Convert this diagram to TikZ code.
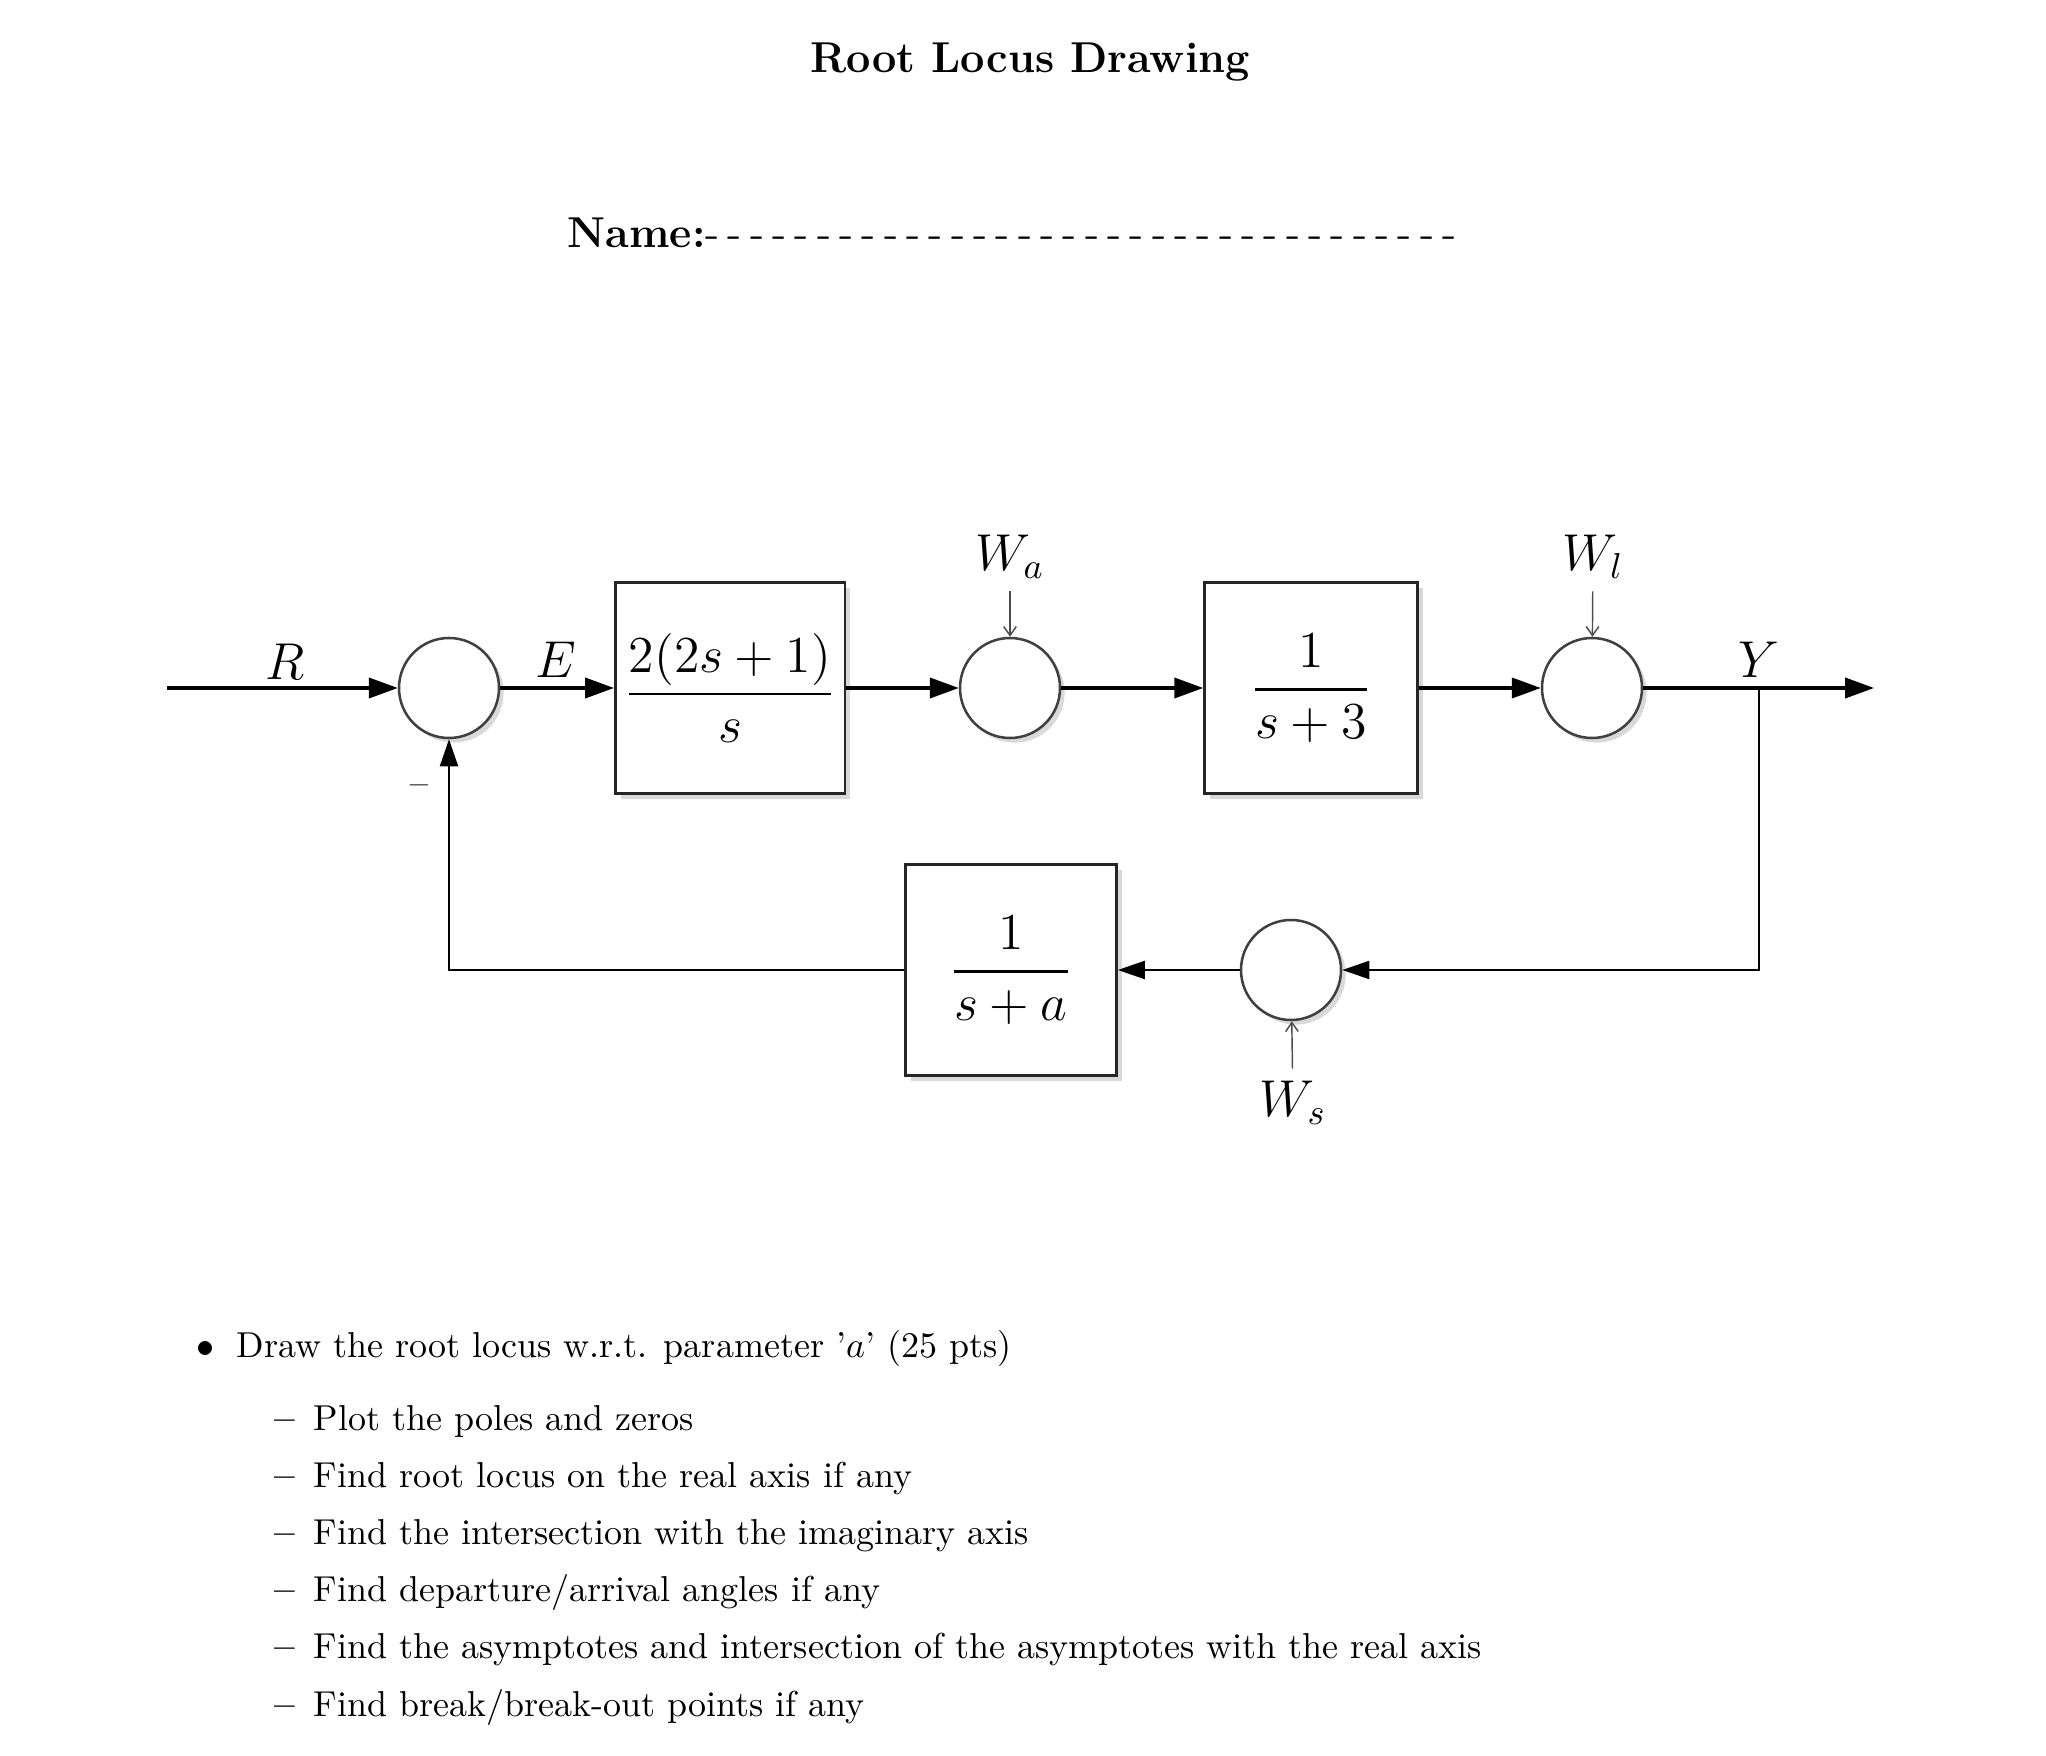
\documentclass[tikz,border=0pt]{standalone}
\usepackage{amsmath}
\usetikzlibrary{arrows.meta,shadows}

\newcommand\namedashes{\foreach \k in {1,...,34}{\makebox[6.2pt][l]{-}}}

\begin{document}
\begin{tikzpicture}
[x=0.0976mm,y=-0.0976mm,
  sumdecorate/.style={shape=circle,minimum size=9.76mm,inner sep=0pt,draw=black!75,
    line width=0.7pt,fill=white,
    drop shadow={shadow xshift=0.45mm,shadow yshift=-0.45mm,opacity=0.3}},
  blockdecorate/.style={shape=rectangle,minimum height=20.6mm,inner sep=0pt,draw=black!85,
    line width=0.7pt,fill=white,font=\Large,
    drop shadow={shadow xshift=0.55mm,shadow yshift=-0.55mm,opacity=0.3}},
  linedecorate/.style={line width=0.85pt,-{Triangle[length=8pt,width=5.6pt]}},
  backdecorate/.style={line width=0.6pt,-{Triangle[length=7.5pt,width=5pt]}},
  noisedecorate/.style={line width=0.4pt,draw=black!70,-{Straight Barb[length=2.5pt,width=3.5pt]}},
  labeldecorate/.style={font=\Large}]
\useasboundingbox (0,0) rectangle (2046,1756);
%% heading
\node (title) at (1030,73) [anchor=base,inner sep=0pt,font=\large\bfseries] {Root Locus Drawing};
\node (name) at (567,248) [anchor=base west,inner sep=0pt,font=\large] {\textbf{Name:}\namedashes};
%% summing junctions
\foreach \nodename/\x/\y in {S1/449/688, S2/1010/688, S3/1592/688, S4/1291/970}
{
  \node (\nodename) at (\x,\y) [sumdecorate] {};
}
%% blocks
\node (G1) at (730,688) [blockdecorate,minimum width=22.4mm] {$\dfrac{2(2s+1)}{s}$};
\node (G2) at (1311,688) [blockdecorate,minimum width=20.8mm] {$\dfrac{1}{s+3}$};
\node (H) at (1011,970) [blockdecorate,minimum width=20.6mm] {$\dfrac{1}{s+a}$};
%% signals and disturbances
\coordinate (in) at (167,688);
\coordinate (out) at (1874,688);
\coordinate (branch) at (1759,688);
\node (R) at (285,662) [labeldecorate] {$R$};
\node (E) at (556,660) [labeldecorate] {$E$};
\node (Y) at (1759,660) [labeldecorate] {$Y$};
\node (Wa) at (1010,557) [labeldecorate] {$W_a$};
\node (Wl) at (1593,557) [labeldecorate] {$W_l$};
\node (Ws) at (1293,1103) [labeldecorate] {$W_s$};
\node (minus) at (419,785) [text=black!70,font=\footnotesize] {$-$};
%% connections
\path
\foreach \startnode/\endnode in {in/S1, S1/G1, G1/S2, S2/G2, G2/S3, S3/out} {
  (\startnode) edge[linedecorate] (\endnode)
};
\draw[backdecorate] (branch) |- (S4);
\draw[backdecorate] (S4) -- (H);
\draw[backdecorate] (H) -| (S1);
\path
\foreach \startnode/\endnode in {Wa/S2, Wl/S3, Ws/S4} {
  (\startnode) edge[noisedecorate] (\endnode)
};
%% tasks
\node (bullet) at (206,1357) [anchor=base,inner sep=0pt] {$\bullet$};
\node (task) at (236,1357) [anchor=base west,inner sep=0pt] {Draw the root locus w.r.t. parameter '$a$' (25 pts)};
\foreach \i/\txt in {0/Plot the poles and zeros, 1/Find root locus on the real axis if any,
  2/Find the intersection with the imaginary axis, 3/{Find departure/arrival angles if any},
  4/Find the asymptotes and intersection of the asymptotes with the real axis,
  5/{Find break/break-out points if any}}
{
  \node (dash\i) at (285,{1430+57.2*\i}) [anchor=base,inner sep=0pt] {\textbf{--}};
  \node (sub\i) at (313,{1430+57.2*\i}) [anchor=base west,inner sep=0pt] {\txt};
}
\end{tikzpicture}
\end{document}
